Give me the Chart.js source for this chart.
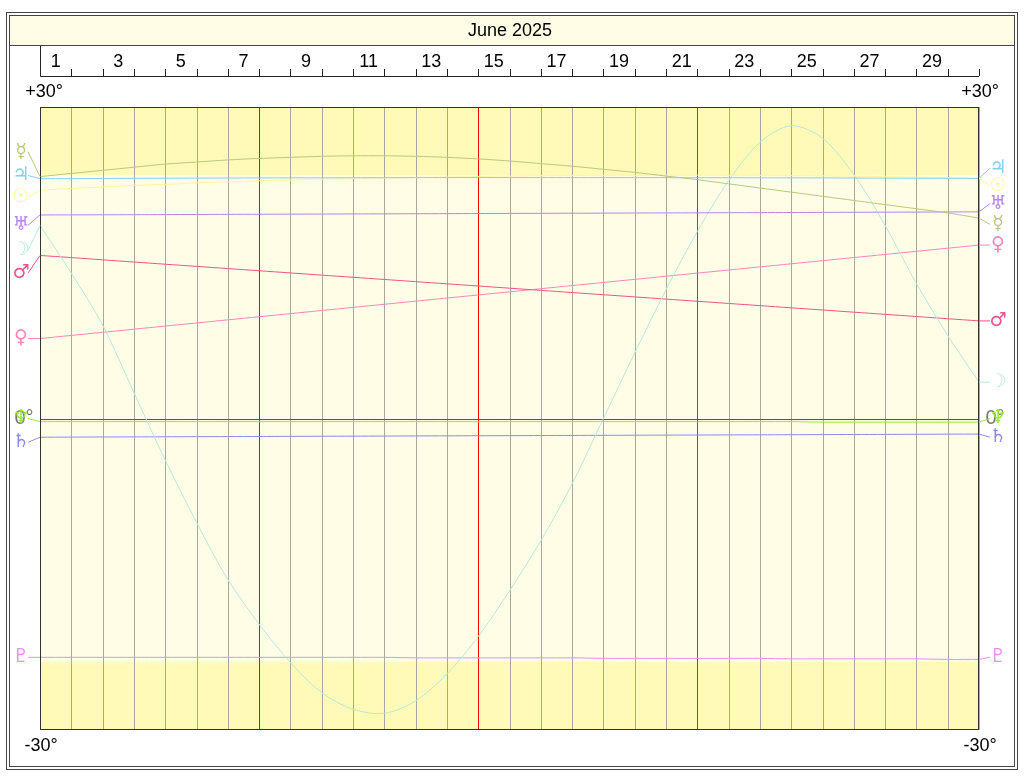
<!DOCTYPE html>
<html>
<head>
<meta charset="utf-8">
<script src="https://cdn.jsdelivr.net/npm/chart.js@4"></script>
<style>
  body { margin: 0; background: #fff; }
  #wrap { position: relative; width: 1024px; height: 779px; }
  canvas { position: absolute; left: 0; top: 0; }
</style>
</head>
<body>
<div id="wrap"><canvas id="decChart" width="1024" height="779"></canvas></div>
<script>
    // 日期: 1 = 6/1 0h, 31 = 7/1 0h
    const days = Array.from({ length: 31 }, (_, i) => i + 1);
    const title = 'June 2025';
    const tickLabels = ['1', '3', '5', '7', '9', '11', '13', '15', '17', '19', '21', '23', '25', '27', '29'];
    const redDays = [8, 15];
    const darkDays = [22];

    // 赤緯 (度)
    const moon = [18.6, 14, 9, 2.5, -4, -10, -15.5, -19.8, -23.5, -26.4, -28, -28.4, -27.2, -24.6, -21, -16.6, -11.8, -6.3, 0, 6.3, 12.4, 18, 22.9, 26.6, 28.2, 27, 23.5, 18.6, 13, 8, 3.5];
    const sun = [22.0, 22.15, 22.3, 22.45, 22.55, 22.7, 22.8, 22.9, 22.95, 23.05, 23.1, 23.15, 23.2, 23.25, 23.3, 23.35, 23.38, 23.4, 23.42, 23.43, 23.44, 23.44, 23.43, 23.42, 23.4, 23.37, 23.34, 23.3, 23.25, 23.2, 23.14];
    const mercury = [23.3, 23.6, 23.9, 24.2, 24.5, 24.7, 24.9, 25.05, 25.15, 25.25, 25.3, 25.3, 25.25, 25.15, 25.0, 24.8, 24.55, 24.3, 24.0, 23.7, 23.35, 23.0, 22.6, 22.2, 21.8, 21.4, 21.0, 20.6, 20.2, 19.8, 19.3];
    const jupiter = [23.1, 23.1, 23.12, 23.13, 23.14, 23.15, 23.16, 23.17, 23.18, 23.18, 23.19, 23.19, 23.2, 23.2, 23.2, 23.2, 23.2, 23.2, 23.2, 23.2, 23.2, 23.19, 23.19, 23.18, 23.18, 23.17, 23.16, 23.15, 23.14, 23.13, 23.12];
    const uranus = [19.6, 19.61, 19.62, 19.63, 19.64, 19.65, 19.66, 19.67, 19.68, 19.69, 19.7, 19.71, 19.72, 19.73, 19.74, 19.75, 19.76, 19.77, 19.78, 19.79, 19.8, 19.81, 19.82, 19.83, 19.84, 19.85, 19.86, 19.87, 19.88, 19.89, 19.9];
    const mars = [15.7, 15.5, 15.28, 15.07, 14.86, 14.65, 14.44, 14.23, 14.02, 13.81, 13.6, 13.39, 13.18, 12.97, 12.76, 12.55, 12.34, 12.13, 11.92, 11.71, 11.5, 11.29, 11.08, 10.87, 10.66, 10.45, 10.24, 10.03, 9.82, 9.61, 9.4];
    const venus = [7.7, 8.0, 8.3, 8.6, 8.9, 9.2, 9.5, 9.8, 10.1, 10.4, 10.7, 11.0, 11.3, 11.6, 11.9, 12.2, 12.5, 12.8, 13.1, 13.4, 13.7, 14.0, 14.3, 14.6, 14.9, 15.2, 15.5, 15.8, 16.1, 16.4, 16.7];
    const saturn = [-1.8, -1.79, -1.78, -1.77, -1.76, -1.75, -1.74, -1.73, -1.72, -1.71, -1.7, -1.69, -1.68, -1.67, -1.66, -1.65, -1.64, -1.63, -1.62, -1.61, -1.6, -1.59, -1.58, -1.57, -1.56, -1.55, -1.54, -1.53, -1.52, -1.51, -1.5];
    const neptune = [-0.3, -0.3, -0.3, -0.3, -0.3, -0.3, -0.3, -0.3, -0.3, -0.3, -0.3, -0.3, -0.3, -0.3, -0.3, -0.3, -0.3, -0.3, -0.3, -0.3, -0.3, -0.3, -0.3, -0.3, -0.3, -0.35, -0.35, -0.35, -0.35, -0.35, -0.35];
    const pluto = [-23.0, -23.0, -23.0, -23.0, -23.0, -23.0, -23.0, -23.0, -23.0, -23.0, -23.0, -23.0, -23.05, -23.05, -23.05, -23.05, -23.05, -23.05, -23.1, -23.1, -23.1, -23.1, -23.1, -23.1, -23.15, -23.15, -23.15, -23.15, -23.15, -23.2, -23.2];

    // 名稱, 符號, 顏色, 資料, 左標籤赤緯, 右標籤赤緯
    const planets = [
        ['Mercury', '☿', '#b9c97c', mercury, 25.7, 18.7],
        ['Jupiter', '♃', '#86cff0', jupiter, 23.4, 24.1],
        ['Sun', '☉', '#fbf89a', sun, 21.3, 22.4],
        ['Uranus', '♅', '#b883f0', uranus, 18.6, 20.7],
        ['Moon', '☽', '#b9e9da', moon, 16.2, 3.5],
        ['Mars', '♂', '#ec5588', mars, 14.0, 9.4],
        ['Venus', '♀', '#fb86bb', venus, 7.7, 16.7],
        ['Neptune', '♆', '#9be92e', neptune, 0.0, 0.0],
        ['Saturn', '♄', '#8a8af5', saturn, -2.3, -1.8],
        ['Pluto', '♇', '#e78ef0', pluto, -23.0, -23.0]
    ];

    const deco = {
        id: 'deco',
        beforeDatasetsDraw(chart) {
            const { ctx, chartArea: a, scales: { x, y } } = chart;
            ctx.save();
            // 背景帶
            ctx.fillStyle = '#fffde6';
            ctx.fillRect(a.left, a.top, a.width, a.height);
            ctx.fillStyle = '#fffab8';
            ctx.fillRect(a.left, a.top, a.width, y.getPixelForValue(23.44) - a.top);
            ctx.fillRect(a.left, y.getPixelForValue(-23.44), a.width, a.bottom - y.getPixelForValue(-23.44));
            // 日期格線
            days.forEach(d => {
                let c = '#a8a8a0';
                if (darkDays.indexOf(d) >= 0) c = '#606060';
                if (redDays.indexOf(d) >= 0) c = 'rgb(255,0,0)';
                ctx.fillStyle = c;
                ctx.fillRect(Math.round(x.getPixelForValue(d)), a.top, 1, a.height);
            });
            // 0 度線
            ctx.fillStyle = '#555';
            ctx.fillRect(a.left, Math.round(y.getPixelForValue(0)), a.width, 1);
            ctx.restore();
        },
        afterDatasetsDraw(chart) {
            const { ctx, chartArea: a, scales: { x, y } } = chart;
            ctx.save();
            // 外框
            ctx.strokeStyle = '#333';
            ctx.lineWidth = 1;
            ctx.strokeRect(a.left + 0.5, a.top + 0.5, a.width - 1, a.height - 1);
            ctx.strokeStyle = '#444';
            ctx.strokeRect(6.5, 12.5, 1011, 757);
            ctx.strokeRect(9.5, 15.5, 1005, 751);
            // 標題
            ctx.fillStyle = '#fffde6';
            ctx.fillRect(10, 16, 1004, 29);
            ctx.beginPath(); ctx.moveTo(10, 45.5); ctx.lineTo(1014, 45.5); ctx.stroke();
            ctx.fillStyle = '#000';
            ctx.font = '18px "Liberation Sans", Arial, sans-serif';
            ctx.textAlign = 'center'; ctx.textBaseline = 'middle';
            ctx.fillText(title, 510, 31);
            // 上方刻度
            ctx.strokeStyle = '#222';
            ctx.beginPath();
            ctx.moveTo(a.left + 0.5, 46); ctx.lineTo(a.left + 0.5, 76.5); ctx.lineTo(a.right, 76.5);
            days.forEach(d => {
                const px = Math.round(x.getPixelForValue(d)) + 0.5;
                ctx.moveTo(px, 76); ctx.lineTo(px, 69);
            });
            ctx.stroke();
            tickLabels.forEach(t => {
                ctx.fillText(t, x.getPixelForValue(+t + 0.5), 62);
            });
            // 度數標籤
            ctx.fillText('+30°', 44, 92);
            ctx.fillText('+30°', 980, 92);
            ctx.fillText('-30°', 41, 746);
            ctx.fillText('-30°', 980, 746);
            ctx.fillStyle = '#777';
            ctx.font = '20px "Liberation Sans", Arial, sans-serif';
            ctx.fillText('0°', 24, 418);
            ctx.fillText('0°', 995, 418);
            // 行星符號與引線
            ctx.font = '19px "DejaVu Sans", sans-serif';
            planets.forEach(([name, sym, color, data, ly, ry]) => {
                const yl = y.getPixelForValue(ly), yr = y.getPixelForValue(ry);
                ctx.strokeStyle = color; ctx.fillStyle = color;
                ctx.beginPath();
                ctx.moveTo(28, yl); ctx.lineTo(a.left, y.getPixelForValue(data[0]));
                ctx.moveTo(a.right, y.getPixelForValue(data[data.length - 1])); ctx.lineTo(990, yr);
                ctx.stroke();
                ctx.fillText(sym, 21, yl);
                ctx.fillText(sym, 998, yr);
            });
            ctx.restore();
        }
    };

    new Chart(document.getElementById('decChart'), {
        type: 'line',
        data: {
            labels: days,
            datasets: planets.map(([name, sym, color, data]) => ({
                label: name,
                data: data.map((v, i) => ({ x: days[i], y: v })),
                borderColor: color,
                borderWidth: 1,
                pointRadius: 0,
                tension: 0.3
            }))
        },
        options: {
            responsive: false,
            animation: false,
            layout: { padding: { left: 40, top: 107, right: 45, bottom: 49 } },
            plugins: { legend: { display: false }, tooltip: { enabled: false } },
            scales: {
                x: { type: 'linear', min: 1, max: 31, display: false },
                y: { min: -30, max: 30, display: false }
            }
        },
        plugins: [deco]
    });
</script>
</body>
</html>
